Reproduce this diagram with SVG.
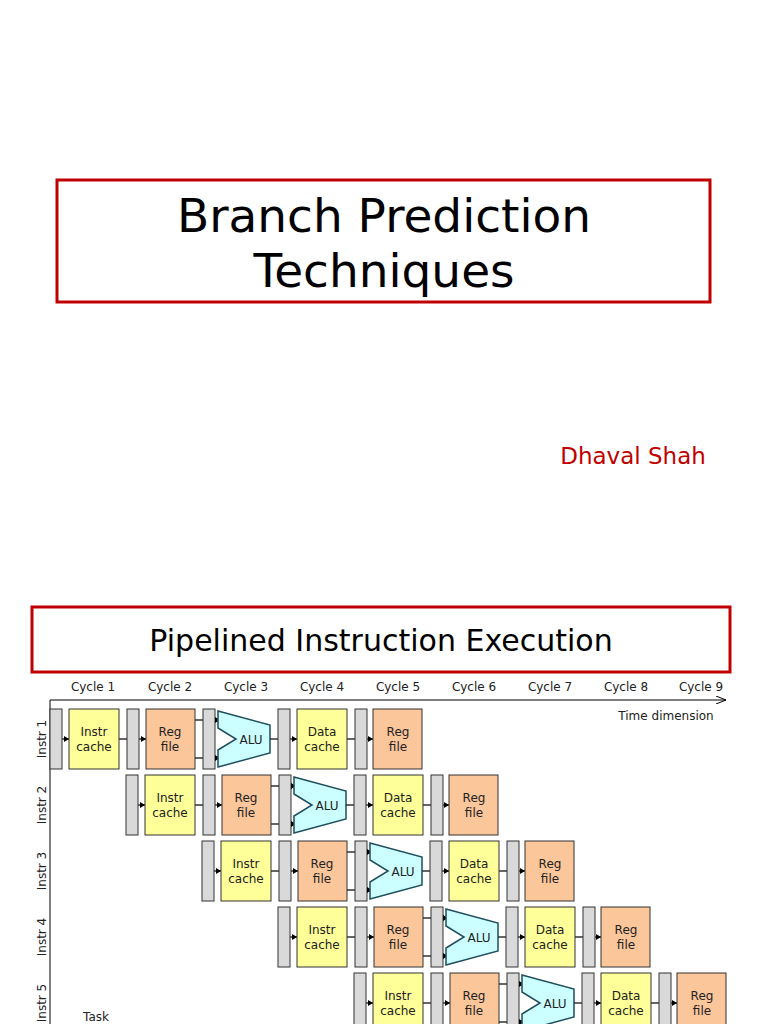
<svg xmlns="http://www.w3.org/2000/svg" xmlns:xlink="http://www.w3.org/1999/xlink" width="768" height="1024" viewBox="0 0 768 1024">
<style>
.t{font-family:"DejaVu Sans",sans-serif;fill:#000}
.s{font-family:"DejaVu Sans",sans-serif;font-size:12px;text-anchor:middle;fill:#222}
.latch{fill:#d9d9d9;stroke:#333;stroke-width:1}
.ic{fill:#ffff99;stroke:#333}
.rf{fill:#fbc69a;stroke:#333}
.alu{fill:#ccffff;stroke:#1f4e5f;stroke-width:1.5}
.w{stroke:#333;stroke-width:1.5;fill:none}
</style>
<defs>
<marker id="ah" markerWidth="5" markerHeight="6" refX="5" refY="3" orient="auto" markerUnits="userSpaceOnUse"><path d="M0,0L5,3L0,6z" fill="#000"/></marker>
<marker id="ax" markerWidth="10" markerHeight="8" refX="10" refY="4" orient="auto" markerUnits="userSpaceOnUse"><path d="M0,0L10,4L0,8" fill="none" stroke="#000"/></marker>
<g id="row">
<rect class="latch" x="50" y="709" width="12" height="60"/>
<line class="w" x1="62" y1="739" x2="69" y2="739" marker-end="url(#ah)"/>
<rect class="ic" x="69" y="709" width="50" height="60"/>
<text class="s" x="94" y="736">Instr</text><text class="s" x="94" y="751">cache</text>
<line class="w" x1="119" y1="739" x2="127" y2="739"/>
<rect class="latch" x="127" y="709" width="12" height="60"/>
<line class="w" x1="139" y1="739" x2="146" y2="739" marker-end="url(#ah)"/>
<rect class="rf" x="146" y="709" width="49" height="60"/>
<text class="s" x="170" y="736">Reg</text><text class="s" x="170" y="751">file</text>
<line class="w" x1="195" y1="720" x2="203" y2="720"/><line class="w" x1="195" y1="758" x2="203" y2="758"/>
<rect class="latch" x="203" y="709" width="12" height="60"/>
<line class="w" x1="215" y1="720" x2="220" y2="720" marker-end="url(#ah)"/><line class="w" x1="215" y1="758" x2="220" y2="758" marker-end="url(#ah)"/>
<polygon class="alu" points="218,711 270,725 270,753 218,767 218,750 236,739 218,728"/>
<text class="s" x="251" y="744">ALU</text>
<line class="w" x1="270" y1="739" x2="278" y2="739"/>
<rect class="latch" x="278" y="709" width="12" height="60"/>
<line class="w" x1="290" y1="739" x2="297" y2="739" marker-end="url(#ah)"/>
<rect class="ic" x="297" y="709" width="50" height="60"/>
<text class="s" x="322" y="736">Data</text><text class="s" x="322" y="751">cache</text>
<line class="w" x1="347" y1="739" x2="355" y2="739"/>
<rect class="latch" x="355" y="709" width="12" height="60"/>
<line class="w" x1="367" y1="739" x2="373" y2="739" marker-end="url(#ah)"/>
<rect class="rf" x="373" y="709" width="49" height="60"/>
<text class="s" x="398" y="736">Reg</text><text class="s" x="398" y="751">file</text>
</g>
</defs>
<rect width="768" height="1024" fill="#fff"/>
<g id="title">
<rect x="57" y="180" width="653" height="122" fill="none" stroke="#c00000" stroke-width="3"/>
<text class="t" x="384" y="232" font-size="47" text-anchor="middle">Branch Prediction</text>
<text class="t" x="384" y="287" font-size="47" text-anchor="middle">Techniques</text>
</g>
<text id="author" class="t" x="633" y="464" font-size="23" text-anchor="middle" style="fill:#c00000">Dhaval Shah</text>
<g id="title2">
<rect x="32" y="607" width="698" height="65" fill="none" stroke="#c00000" stroke-width="3"/>
<text class="t" x="381" y="651" font-size="30" text-anchor="middle">Pipelined Instruction Execution</text>
</g>
<g id="axes">
<line x1="50" y1="1024" x2="50" y2="700" stroke="#000"/>
<line x1="50" y1="700" x2="726" y2="700" stroke="#000" marker-end="url(#ax)"/>
<text class="s" x="93" y="691">Cycle 1</text><text class="s" x="170" y="691">Cycle 2</text><text class="s" x="246" y="691">Cycle 3</text>
<text class="s" x="322" y="691">Cycle 4</text><text class="s" x="398" y="691">Cycle 5</text><text class="s" x="474" y="691">Cycle 6</text>
<text class="s" x="550" y="691">Cycle 7</text><text class="s" x="626" y="691">Cycle 8</text><text class="s" x="701" y="691">Cycle 9</text>
<text class="s" x="666" y="720">Time dimension</text>
<text class="s" x="96" y="1021">Task</text>
</g>
<g id="instr1"><use xlink:href="#row"/><text class="s" transform="translate(46,739) rotate(-90)">Instr 1</text></g>
<g id="instr2" transform="translate(76,66)"><use xlink:href="#row"/></g>
<text class="s" transform="translate(46,805) rotate(-90)">Instr 2</text>
<g id="instr3" transform="translate(152,132)"><use xlink:href="#row"/></g>
<text class="s" transform="translate(46,871) rotate(-90)">Instr 3</text>
<g id="instr4" transform="translate(228,198)"><use xlink:href="#row"/></g>
<text class="s" transform="translate(46,937) rotate(-90)">Instr 4</text>
<g id="instr5" transform="translate(304,264)"><use xlink:href="#row"/></g>
<text class="s" transform="translate(46,1003) rotate(-90)">Instr 5</text>
</svg>
